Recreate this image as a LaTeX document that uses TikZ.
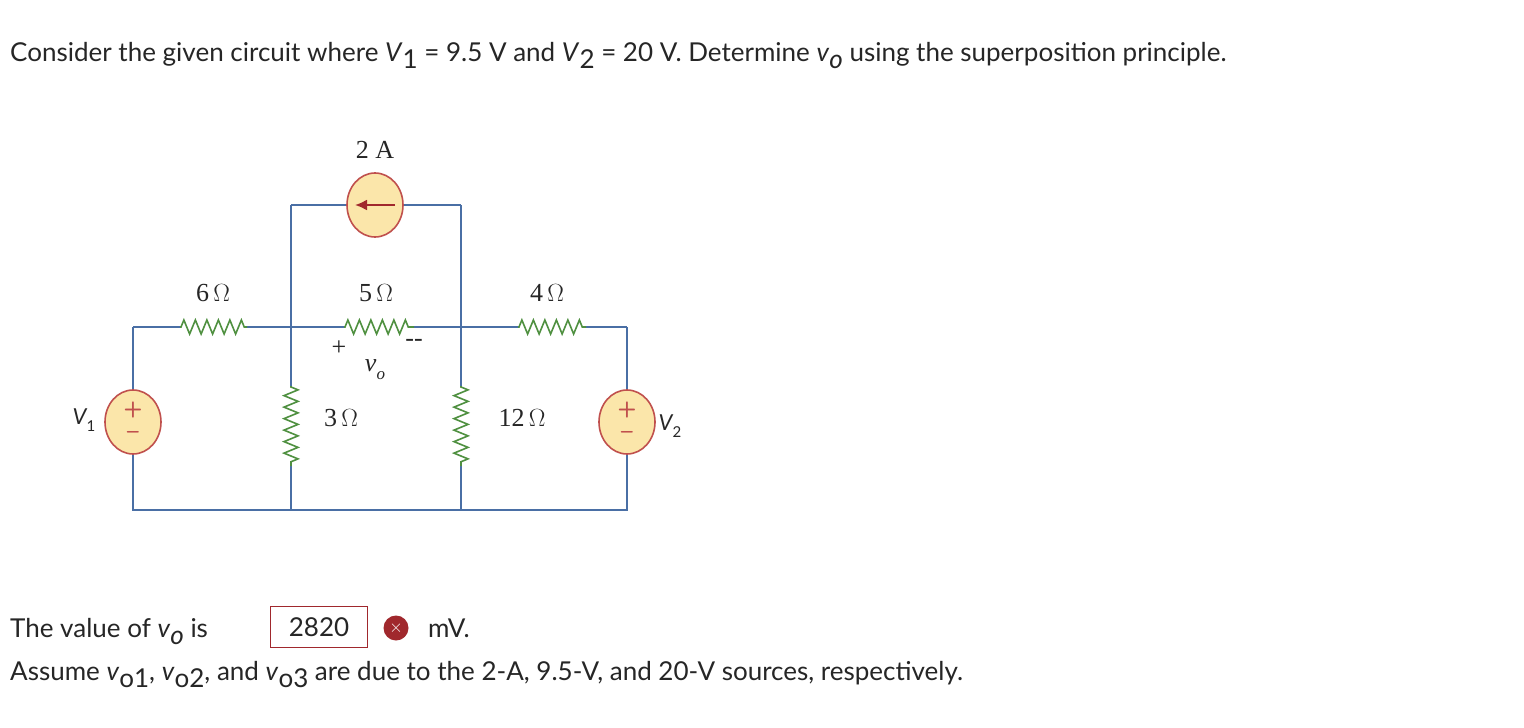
\documentclass[tikz,border=0pt]{standalone}
\usepackage{fontspec}
\setmainfont{Lato}
\newfontfamily\serifc{Liberation Serif}
\usetikzlibrary{decorations.pathmorphing,shapes.geometric,arrows.meta}
\newcommand{\lowsub}[1]{\raisebox{-0.3em}{#1}}
\begin{document}
\begin{tikzpicture}[x=1pt,y=-1pt,
  wire/.style={draw=wireblue,line width=1.6pt},
  res/.style={draw=resgreen,line width=1.6pt,decorate,decoration={zigzag,segment length=11.5,amplitude=7,pre length=1,post length=1}},
  src/.style={ellipse,draw=srcred,fill=srcfill,line width=1.6pt,minimum width=56,minimum height=64,inner sep=0},
  lab/.style={font=\serifc\fontsize{26}{28}\selectfont,text=black!85},
  txt/.style={font=\fontsize{26}{30}\selectfont,text=black!85,anchor=base west,inner sep=0}]
\definecolor{wireblue}{HTML}{4A6FA5}
\definecolor{resgreen}{HTML}{4F9040}
\definecolor{srcred}{HTML}{C0504D}
\definecolor{srcfill}{HTML}{FBE6AA}
\definecolor{arrred}{HTML}{A0282D}
\useasboundingbox (0,0) rectangle (1524,728);
\fill[white] (0,0) rectangle (1524,728);
% coordinates
\coordinate (tl) at (291,205); \coordinate (tr) at (461,205);
\coordinate (ml) at (133,327); \coordinate (ma) at (291,327); \coordinate (mb) at (461,327); \coordinate (mr) at (627,327);
\coordinate (bl) at (133,510); \coordinate (ba) at (291,510); \coordinate (bb) at (461,510); \coordinate (br) at (627,510);
\coordinate (r6a) at (180,327); \coordinate (r6b) at (247,327);
\coordinate (r5a) at (344,327); \coordinate (r5b) at (414,327);
\coordinate (r4a) at (518,327); \coordinate (r4b) at (586,327);
\coordinate (r3a) at (291,386); \coordinate (r3b) at (291,466);
\coordinate (r12a) at (461,386); \coordinate (r12b) at (461,466);
\node[src] (isrc) at (375,205) {};
\node[src] (v1) at (133,422) {};
\node[src] (v2) at (627,422) {};
% wires
\draw[wire] (tl) -- (isrc.west); \draw[wire] (isrc.east) -- (tr);
\draw[wire] (tl) -- (ma) -- (r3a); \draw[wire] (tr) -- (mb) -- (r12a);
\draw[wire] (ml) -- (r6a); \draw[wire] (r6b) -- (r5a); \draw[wire] (r5b) -- (r4a); \draw[wire] (r4b) -- (mr);
\draw[wire] (ml) -- (v1.north); \draw[wire] (v1.south) -- (bl) -- (br) -- (v2.south); \draw[wire] (v2.north) -- (mr);
\draw[wire] (r3b) -- (ba); \draw[wire] (r12b) -- (bb);
% resistors
\draw[res] (r6a) -- (r6b); \draw[res] (r5a) -- (r5b); \draw[res] (r4a) -- (r4b);
\draw[res] (r3a) -- (r3b); \draw[res] (r12a) -- (r12b);
% source symbols
\coordinate (aa) at (395,205); \coordinate (ab) at (355,205);
\draw[arrred,line width=2pt,-{Latex[length=12pt,width=11pt]}] (aa) -- (ab);
\node[text=srcred,font=\sffamily\bfseries\fontsize{22}{22}\selectfont] (v1p) at (133,410) {+};
\node[text=srcred,font=\sffamily\bfseries\fontsize{22}{22}\selectfont] (v1m) at (133,435) {--};
\node[text=srcred,font=\sffamily\bfseries\fontsize{22}{22}\selectfont] (v2p) at (627,410) {+};
\node[text=srcred,font=\sffamily\bfseries\fontsize{22}{22}\selectfont] (v2m) at (627,435) {--};
% labels
\node[lab] (l2a) at (375,150) {2 A};
\node[lab] (l6) at (213,293) {6\,$\Omega$};
\node[lab] (l5) at (376,293) {5\,$\Omega$};
\node[lab] (l4) at (547,293) {4\,$\Omega$};
\node[lab] (l3) at (341,418) {3\,$\Omega$};
\node[lab] (l12) at (522,418) {12\,$\Omega$};
\node[lab] (lp) at (339,348) {+};
\node[lab] (lm) at (414,343) {--};
\node[lab] (lvo) at (375,370) {\itshape v\lowsub{\fontsize{17}{17}\selectfont o}};
\node[font=\fontsize{22}{22}\selectfont\itshape,text=black!85] (lv1) at (84,420) {V\lowsub{\upshape\fontsize{15}{15}\selectfont 1}};
\node[font=\fontsize{22}{22}\selectfont\itshape,text=black!85] (lv2) at (670,426) {V\lowsub{\upshape\fontsize{15}{15}\selectfont 2}};
% text
\node[txt] (q) at (10,61) {Consider the given circuit where \textit{V}\lowsub{1} = 9.5 V and \textit{V}\lowsub{2} = 20 V. Determine \textit{v}\lowsub{\textit{o}} using the superposition principle.};
\node[txt] (a1) at (10,637) {The value of \textit{v}\lowsub{\textit{o}} is};
\node[draw=arrred,line width=1.3pt,minimum width=97,minimum height=41,inner sep=0,font=\fontsize{26}{30}\selectfont,text=black!85] (box) at (319,627) {2820};
\node[circle,fill=arrred,minimum size=25,inner sep=0,text=white,font=\sffamily\bfseries\fontsize{18}{18}\selectfont] (err) at (396,628) {$\times$};
\node[txt] (mv) at (428,637) {mV.};
\node[txt] (a2) at (10,680) {Assume \textit{v}\lowsub{o1}, \textit{v}\lowsub{o2}, and \textit{v}\lowsub{o3} are due to the 2-A, 9.5-V, and 20-V sources, respectively.};
\end{tikzpicture}
\end{document}
